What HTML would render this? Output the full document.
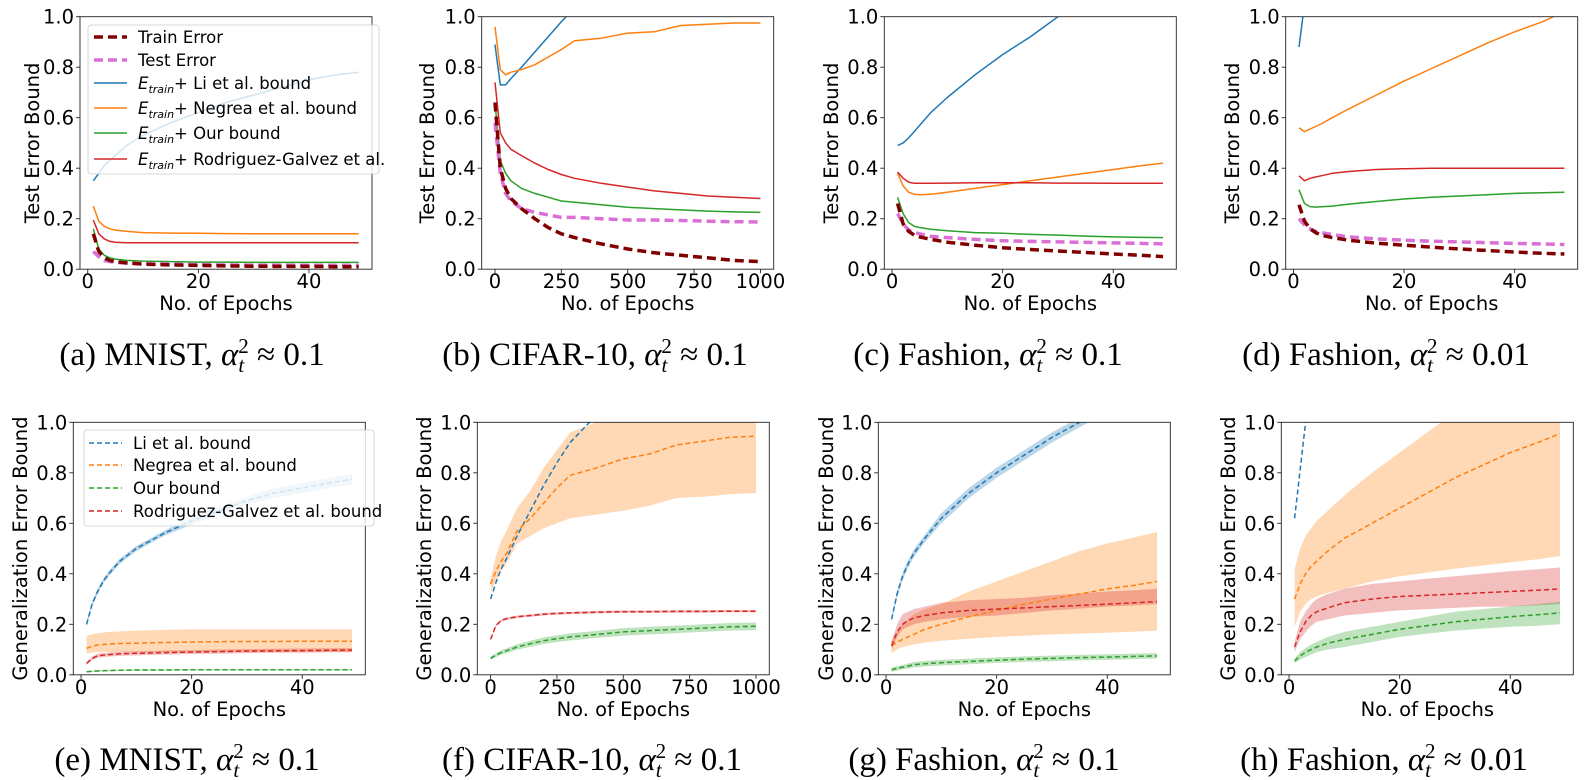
<!DOCTYPE html>
<html><head><meta charset="utf-8"><style>
html,body{margin:0;padding:0;background:#fff;}
svg{display:block;}
text{font-family:"DejaVu Sans","Liberation Sans",sans-serif;}
.cap{font-family:"Liberation Serif",serif;font-size:33px;}
</style></head><body>
<svg id="fig" width="1589" height="780" viewBox="0 0 1589 780" xmlns="http://www.w3.org/2000/svg"></svg>
<script>
// ---- data ----
const E = [1,2,3,4,5,7,10,15,20,25,30,35,40,45,49];
const C = [0,20,40,60,100,150,200,250,300,400,500,600,700,800,900,1000];
const yTicks = [0.0,0.2,0.4,0.6,0.8,1.0];
const eTicks = [0,20,40];
const cTicks = [0,250,500,750,1000];

const aTrain=[0.14,0.07,0.045,0.035,0.03,0.025,0.02,0.017,0.015,0.013,0.012,0.011,0.011,0.01,0.01];
const aTest=[0.07,0.05,0.035,0.03,0.027,0.024,0.022,0.02,0.018,0.017,0.016,0.016,0.015,0.015,0.015];
const aLi=[0.35,0.38,0.41,0.43,0.45,0.49,0.53,0.58,0.62,0.66,0.69,0.72,0.75,0.77,0.78];
const aNeg=[0.25,0.19,0.17,0.16,0.155,0.15,0.145,0.143,0.142,0.141,0.14,0.14,0.14,0.14,0.14];
const aOur=[0.16,0.08,0.055,0.045,0.04,0.035,0.032,0.03,0.028,0.028,0.027,0.027,0.027,0.027,0.027];
const aRod=[0.195,0.14,0.12,0.11,0.107,0.105,0.105,0.105,0.105,0.105,0.105,0.105,0.105,0.105,0.105];

const bLi=[0.89,0.73,0.73,0.755,0.80,0.86,0.92,0.98,1.035,null,null,null,null,null,null,null];
const bNeg=[0.96,0.79,0.77,0.78,0.79,0.81,0.84,0.87,0.905,0.915,0.935,0.94,0.965,0.97,0.975,0.975];
const bRod=[0.74,0.54,0.50,0.475,0.45,0.42,0.395,0.375,0.36,0.34,0.325,0.31,0.30,0.29,0.285,0.28];
const bOur=[0.66,0.43,0.38,0.35,0.32,0.30,0.285,0.27,0.265,0.255,0.245,0.24,0.235,0.23,0.227,0.225];
const bTrain=[0.66,0.40,0.32,0.28,0.24,0.20,0.165,0.14,0.125,0.10,0.08,0.065,0.055,0.045,0.035,0.03];
const bTest=[0.58,0.38,0.30,0.27,0.24,0.225,0.215,0.205,0.205,0.20,0.195,0.195,0.193,0.19,0.188,0.187];

const cLi=[0.49,0.50,0.52,0.545,0.57,0.62,0.68,0.77,0.85,0.92,1.0,1.06,null,null,null];
const cNeg=[0.38,0.33,0.305,0.297,0.295,0.297,0.305,0.32,0.335,0.35,0.365,0.38,0.395,0.41,0.42];
const cRod=[0.385,0.36,0.345,0.34,0.34,0.34,0.341,0.342,0.342,0.342,0.341,0.341,0.34,0.34,0.34];
const cOur=[0.285,0.22,0.185,0.17,0.165,0.158,0.152,0.145,0.142,0.138,0.135,0.131,0.128,0.126,0.125];
const cTrain=[0.26,0.18,0.15,0.135,0.128,0.118,0.107,0.095,0.085,0.078,0.072,0.066,0.06,0.055,0.05];
const cTest=[0.22,0.18,0.155,0.145,0.14,0.13,0.125,0.118,0.113,0.11,0.108,0.106,0.104,0.102,0.10];

const dLi=[0.88,1.05,null,null,null,null,null,null,null,null,null,null,null,null,null];
const dNeg=[0.56,0.545,0.555,0.565,0.575,0.60,0.635,0.69,0.745,0.795,0.845,0.895,0.94,0.98,1.02];
const dRod=[0.37,0.35,0.36,0.365,0.37,0.38,0.387,0.395,0.398,0.40,0.40,0.40,0.40,0.40,0.40];
const dOur=[0.315,0.26,0.248,0.246,0.247,0.25,0.258,0.268,0.278,0.285,0.29,0.295,0.30,0.303,0.305];
const dTrain=[0.255,0.19,0.16,0.145,0.135,0.125,0.115,0.103,0.095,0.087,0.08,0.074,0.068,0.063,0.06];
const dTest=[0.20,0.175,0.16,0.15,0.145,0.137,0.128,0.12,0.115,0.111,0.108,0.105,0.102,0.10,0.098];

const eLi=[0.20,0.28,0.33,0.37,0.40,0.45,0.50,0.56,0.61,0.65,0.69,0.72,0.74,0.76,0.775];
const eLiLo=[0.19,0.27,0.32,0.36,0.39,0.44,0.49,0.55,0.595,0.635,0.675,0.70,0.72,0.74,0.755];
const eLiHi=[0.21,0.29,0.34,0.38,0.41,0.46,0.51,0.57,0.625,0.665,0.705,0.74,0.76,0.78,0.795];
const eNeg=[0.105,0.113,0.118,0.12,0.122,0.124,0.125,0.128,0.13,0.131,0.132,0.132,0.133,0.133,0.133];
const eNegLo=[0.085,0.088,0.09,0.09,0.09,0.09,0.09,0.09,0.09,0.09,0.09,0.09,0.09,0.09,0.09];
const eNegHi=[0.155,0.16,0.165,0.167,0.17,0.172,0.175,0.178,0.18,0.18,0.18,0.18,0.18,0.18,0.18];
const eRod=[0.045,0.065,0.075,0.078,0.08,0.083,0.085,0.088,0.09,0.092,0.094,0.095,0.096,0.097,0.098];
const eRodLo=[0.04,0.058,0.067,0.07,0.072,0.075,0.077,0.08,0.082,0.084,0.086,0.087,0.088,0.089,0.09];
const eRodHi=[0.05,0.072,0.083,0.086,0.088,0.091,0.093,0.096,0.098,0.1,0.102,0.103,0.104,0.105,0.106];
const eOur=[0.012,0.014,0.015,0.016,0.017,0.018,0.019,0.019,0.02,0.02,0.02,0.02,0.02,0.02,0.02];
const eOurLo=[0.009,0.011,0.012,0.013,0.014,0.015,0.016,0.016,0.017,0.017,0.017,0.017,0.017,0.017,0.017];
const eOurHi=[0.015,0.017,0.018,0.019,0.02,0.021,0.022,0.022,0.023,0.023,0.023,0.023,0.023,0.023,0.023];

const fLi=[0.30,0.365,0.42,0.46,0.55,0.65,0.75,0.84,0.92,1.03,null,null,null,null,null,null];
const fNeg=[0.36,0.41,0.45,0.48,0.57,0.62,0.68,0.74,0.79,0.82,0.855,0.875,0.91,0.925,0.94,0.945];
const fNegLo=[0.33,0.37,0.41,0.44,0.52,0.55,0.58,0.60,0.62,0.635,0.65,0.67,0.70,0.705,0.715,0.72];
const fNegHi=[0.38,0.47,0.53,0.57,0.66,0.73,0.82,0.89,0.96,1.0,1.0,1.0,1.0,1.0,1.0,1.0];
const fRod=[0.14,0.195,0.215,0.222,0.23,0.235,0.24,0.243,0.245,0.248,0.25,0.25,0.251,0.251,0.252,0.252];
const fRodLo=[0.135,0.19,0.21,0.217,0.225,0.23,0.235,0.238,0.24,0.243,0.245,0.245,0.246,0.246,0.247,0.247];
const fRodHi=[0.145,0.2,0.22,0.227,0.235,0.24,0.245,0.248,0.25,0.253,0.255,0.255,0.256,0.256,0.257,0.257];
const fOur=[0.065,0.078,0.088,0.095,0.11,0.123,0.135,0.143,0.15,0.16,0.17,0.175,0.18,0.185,0.19,0.192];
const fOurLo=[0.058,0.07,0.079,0.085,0.099,0.111,0.122,0.13,0.136,0.146,0.155,0.16,0.165,0.17,0.175,0.177];
const fOurHi=[0.072,0.086,0.097,0.105,0.121,0.135,0.148,0.156,0.164,0.174,0.185,0.19,0.195,0.2,0.205,0.207];

const gLi=[0.22,0.32,0.39,0.44,0.48,0.54,0.62,0.72,0.80,0.87,0.94,1.0,1.06,null,null];
const gLiLo=[0.21,0.305,0.375,0.425,0.465,0.525,0.60,0.70,0.78,0.85,0.92,0.98,1.04,null,null];
const gLiHi=[0.23,0.335,0.405,0.455,0.495,0.555,0.64,0.74,0.82,0.89,0.96,1.02,1.08,null,null];
const gNeg=[0.115,0.13,0.14,0.15,0.16,0.18,0.20,0.23,0.255,0.28,0.30,0.32,0.34,0.355,0.37];
const gNegLo=[0.085,0.10,0.11,0.115,0.12,0.128,0.135,0.143,0.15,0.155,0.16,0.163,0.167,0.171,0.175];
const gNegHi=[0.14,0.17,0.20,0.22,0.24,0.26,0.28,0.33,0.37,0.41,0.45,0.49,0.52,0.545,0.565];
const gRod=[0.115,0.17,0.20,0.215,0.225,0.235,0.245,0.255,0.26,0.265,0.27,0.275,0.28,0.285,0.29];
const gRodLo=[0.10,0.15,0.18,0.19,0.20,0.21,0.22,0.23,0.235,0.245,0.255,0.262,0.27,0.275,0.28];
const gRodHi=[0.13,0.20,0.24,0.25,0.26,0.27,0.285,0.295,0.30,0.305,0.315,0.322,0.33,0.335,0.34];
const gOur=[0.02,0.026,0.03,0.035,0.04,0.044,0.048,0.053,0.058,0.062,0.065,0.068,0.07,0.073,0.075];
const gOurLo=[0.012,0.017,0.021,0.025,0.029,0.033,0.037,0.042,0.047,0.051,0.054,0.057,0.059,0.062,0.064];
const gOurHi=[0.028,0.035,0.039,0.045,0.051,0.055,0.059,0.064,0.069,0.073,0.076,0.079,0.081,0.084,0.086];

const hLi=[0.62,0.81,1.0,1.2,null,null,null,null,null,null,null,null,null,null,null];
const hNeg=[0.30,0.36,0.40,0.43,0.45,0.49,0.54,0.60,0.66,0.72,0.78,0.83,0.88,0.92,0.955];
const hNegLo=[0.19,0.25,0.28,0.30,0.31,0.325,0.34,0.37,0.39,0.405,0.42,0.433,0.445,0.458,0.47];
const hNegHi=[0.42,0.50,0.55,0.58,0.61,0.65,0.71,0.80,0.88,0.96,1.04,1.1,1.15,1.2,1.25];
const hRod=[0.11,0.17,0.21,0.235,0.25,0.265,0.285,0.30,0.31,0.315,0.32,0.325,0.33,0.335,0.34];
const hRodLo=[0.09,0.14,0.17,0.195,0.21,0.22,0.235,0.245,0.255,0.26,0.265,0.27,0.27,0.275,0.28];
const hRodHi=[0.13,0.21,0.25,0.28,0.30,0.32,0.34,0.36,0.37,0.38,0.39,0.40,0.41,0.418,0.425];
const hOur=[0.055,0.075,0.09,0.10,0.11,0.125,0.14,0.16,0.18,0.195,0.21,0.22,0.23,0.238,0.245];
const hOurLo=[0.045,0.06,0.07,0.08,0.09,0.10,0.11,0.13,0.15,0.163,0.175,0.183,0.19,0.195,0.20];
const hOurHi=[0.065,0.09,0.105,0.12,0.13,0.15,0.17,0.19,0.21,0.23,0.25,0.26,0.27,0.28,0.29];

// ---- drawing ----
const NS="http://www.w3.org/2000/svg";
const svg=document.getElementById('fig');
const COL={li:'#1f77b4',neg:'#ff7f0e',our:'#2ca02c',rod:'#d62728',train:'#800000',test:'#da70d6'};
const W=292,H=252.5,FS=19.5;
function mk(tag,attrs,parent){const e=document.createElementNS(NS,tag);for(const k in attrs)e.setAttribute(k,attrs[k]);(parent||svg).appendChild(e);return e;}
let clipId=0;

function panel(id,left,top,xs,xmin,xmax,xt,ylabel,ylabX,lines,bands){
  const g=mk('g',{});
  
  
  const sx=v=>left+(v-xmin)/(xmax-xmin)*W;
  const sy=v=>top+H-(v/1.0)*H;
  const cid='clip'+(clipId++);
  const cp=mk('clipPath',{id:cid},g);mk('rect',{x:left,y:top,width:W,height:H},cp);
  const plot=mk('g',{'clip-path':'url(#'+cid+')'},g);
  
  
  (bands||[]).forEach(b=>{
    let pts=[];
    for(let i=0;i<xs.length;i++) if(b.hi[i]!=null) pts.push(sx(xs[i]).toFixed(1)+','+sy(b.hi[i]).toFixed(1));
    for(let i=xs.length-1;i>=0;i--) if(b.lo[i]!=null) pts.push(sx(xs[i]).toFixed(1)+','+sy(b.lo[i]).toFixed(1));
    const p=mk('polygon',{points:pts.join(' '),fill:b.color,'fill-opacity':0.3,stroke:'none'},plot);
    
    
  });
  lines.forEach(l=>{
    let pts=[];
    for(let i=0;i<xs.length;i++) if(l.data[i]!=null) pts.push(sx(xs[i]).toFixed(1)+','+sy(l.data[i]).toFixed(1));
    const p=mk('polyline',{points:pts.join(' '),fill:'none',stroke:l.color,'stroke-width':l.w,'stroke-dasharray':l.dash||'none','stroke-linejoin':'round'},plot);
    
    
  });
  const fr=mk('rect',{x:left,y:top,width:W,height:H,fill:'none',stroke:'#222','stroke-width':0.9},g);
  
  
  yTicks.forEach(t=>{
    mk('line',{x1:left-4,x2:left,y1:sy(t),y2:sy(t),stroke:'#222','stroke-width':0.9},g);
    const tx=mk('text',{x:left-6,y:sy(t)+7,'text-anchor':'end','font-size':FS},g);
    tx.textContent=t.toFixed(1);
    
    
  });
  xt.forEach(t=>{
    mk('line',{x1:sx(t),x2:sx(t),y1:top+H,y2:top+H+4,stroke:'#222','stroke-width':0.9},g);
    const tx=mk('text',{x:sx(t),y:top+H+19,'text-anchor':'middle','font-size':FS},g);
    tx.textContent=t;
    
    
  });
  const xl=mk('text',{x:left+W/2,y:top+H+41,'text-anchor':'middle','font-size':FS},g);
  xl.textContent='No. of Epochs';
  
  
  const cy=top+H/2;
  const yl=mk('text',{x:ylabX,y:cy,'text-anchor':'middle','font-size':FS,transform:'rotate(-90 '+ylabX+' '+cy+')'},g);
  yl.textContent=ylabel;
  
  
}
function topLines(tr,te,li,neg,our,rod){
  return [
    {name:'li',data:li,color:COL.li,w:1.5},
    {name:'negrea',data:neg,color:COL.neg,w:1.5},
    {name:'our',data:our,color:COL.our,w:1.5},
    {name:'rodriguez',data:rod,color:COL.rod,w:1.5},
    {name:'test-error',data:te,color:COL.test,w:3.5,dash:'9 5'},
    {name:'train-error',data:tr,color:COL.train,w:3.5,dash:'9 5'}
  ];
}
function botLines(li,neg,our,rod){
  return [
    {name:'li',data:li,color:COL.li,w:1.5,dash:'5 3'},
    {name:'negrea',data:neg,color:COL.neg,w:1.5,dash:'5 3'},
    {name:'our',data:our,color:COL.our,w:1.5,dash:'5 3'},
    {name:'rodriguez',data:rod,color:COL.rod,w:1.5,dash:'5 3'}
  ];
}
const T1=16.7,T2=422.3;
panel('a',80,T1,E,-1.4,51.4,eTicks,'Test Error Bound',39,topLines(aTrain,aTest,aLi,aNeg,aOur,aRod));
panel('b',481.7,T1,C,-50,1050,cTicks,'Test Error Bound',434,topLines(bTrain,bTest,bLi,bNeg,bOur,bRod));
panel('c',884.3,T1,E,-1.4,51.4,eTicks,'Test Error Bound',838,topLines(cTrain,cTest,cLi,cNeg,cOur,cRod));
panel('d',1285.7,T1,E,-1.4,51.4,eTicks,'Test Error Bound',1239,topLines(dTrain,dTest,dLi,dNeg,dOur,dRod));
panel('e',73.3,T2,E,-1.4,51.4,eTicks,'Generalization Error Bound',27,botLines(eLi,eNeg,eOur,eRod),
  [{name:'li',lo:eLiLo,hi:eLiHi,color:COL.li},{name:'negrea',lo:eNegLo,hi:eNegHi,color:COL.neg},{name:'our',lo:eOurLo,hi:eOurHi,color:COL.our},{name:'rodriguez',lo:eRodLo,hi:eRodHi,color:COL.rod}]);
panel('f',477.3,T2,C,-50,1050,cTicks,'Generalization Error Bound',431,botLines(fLi,fNeg,fOur,fRod),
  [{name:'negrea',lo:fNegLo,hi:fNegHi,color:COL.neg},{name:'our',lo:fOurLo,hi:fOurHi,color:COL.our},{name:'rodriguez',lo:fRodLo,hi:fRodHi,color:COL.rod}]);
panel('g',878.3,T2,E,-1.4,51.4,eTicks,'Generalization Error Bound',833,botLines(gLi,gNeg,gOur,gRod),
  [{name:'li',lo:gLiLo,hi:gLiHi,color:COL.li},{name:'negrea',lo:gNegLo,hi:gNegHi,color:COL.neg},{name:'our',lo:gOurLo,hi:gOurHi,color:COL.our},{name:'rodriguez',lo:gRodLo,hi:gRodHi,color:COL.rod}]);
panel('h',1281.3,T2,E,-1.4,51.4,eTicks,'Generalization Error Bound',1235,botLines(hLi,hNeg,hOur,hRod),
  [{name:'negrea',lo:hNegLo,hi:hNegHi,color:COL.neg},{name:'rodriguez',lo:hRodLo,hi:hRodHi,color:COL.rod},{name:'our',lo:hOurLo,hi:hOurHi,color:COL.our}]);
</script>
<svg width="1589" height="780" style="position:absolute;left:0;top:0" xmlns="http://www.w3.org/2000/svg">
  <g font-family="DejaVu Sans, Liberation Sans, sans-serif" font-size="16.5">
    <rect x="88" y="25" width="291" height="149" rx="3" fill="#fff" fill-opacity="0.8" stroke="#ccc" stroke-width="0.8"/>
    <line x1="94" y1="37" x2="127" y2="37" stroke="#800000" stroke-width="3.5" stroke-dasharray="9 5"/>
    <text x="138" y="43">Train Error</text>
    <line x1="94" y1="60" x2="127" y2="60" stroke="#da70d6" stroke-width="3.5" stroke-dasharray="9 5"/>
    <text x="138" y="66">Test Error</text>
    <line x1="94" y1="83" x2="127" y2="83" stroke="#1f77b4" stroke-width="1.5"/>
    <text x="138" y="89"><tspan font-style="italic">E</tspan><tspan font-style="italic" font-size="11" dy="4">train</tspan><tspan dy="-4">+ Li et al. bound</tspan></text>
    <line x1="94" y1="108" x2="127" y2="108" stroke="#ff7f0e" stroke-width="1.5"/>
    <text x="138" y="114"><tspan font-style="italic">E</tspan><tspan font-style="italic" font-size="11" dy="4">train</tspan><tspan dy="-4">+ Negrea et al. bound</tspan></text>
    <line x1="94" y1="133" x2="127" y2="133" stroke="#2ca02c" stroke-width="1.5"/>
    <text x="138" y="139"><tspan font-style="italic">E</tspan><tspan font-style="italic" font-size="11" dy="4">train</tspan><tspan dy="-4">+ Our bound</tspan></text>
    <line x1="94" y1="159" x2="127" y2="159" stroke="#d62728" stroke-width="1.5"/>
    <text x="138" y="165"><tspan font-style="italic">E</tspan><tspan font-style="italic" font-size="11" dy="4">train</tspan><tspan dy="-4">+ Rodriguez-Galvez et al.</tspan></text>
  </g>
  <g font-family="DejaVu Sans, Liberation Sans, sans-serif" font-size="16.5">
    <rect x="84" y="430" width="290" height="96" rx="3" fill="#fff" fill-opacity="0.8" stroke="#ccc" stroke-width="0.8"/>
    <line x1="89" y1="443" x2="122" y2="443" stroke="#1f77b4" stroke-width="1.5" stroke-dasharray="5 3"/>
    <text x="133" y="449">Li et al. bound</text>
    <line x1="89" y1="465" x2="122" y2="465" stroke="#ff7f0e" stroke-width="1.5" stroke-dasharray="5 3"/>
    <text x="133" y="471">Negrea et al. bound</text>
    <line x1="89" y1="488" x2="122" y2="488" stroke="#2ca02c" stroke-width="1.5" stroke-dasharray="5 3"/>
    <text x="133" y="494">Our bound</text>
    <line x1="89" y1="511" x2="122" y2="511" stroke="#d62728" stroke-width="1.5" stroke-dasharray="5 3"/>
    <text x="133" y="517">Rodriguez-Galvez et al. bound</text>
  </g>
  <g text-anchor="middle">
    <text class="cap" x="192" y="365">(a) MNIST, <tspan font-style="italic">α</tspan><tspan font-style="italic" font-size="21" dy="7">t</tspan><tspan font-size="21" dx="-6" dy="-19">2</tspan><tspan dy="12"> ≈ 0.1</tspan></text>
    <text class="cap" x="595" y="365">(b) CIFAR-10, <tspan font-style="italic">α</tspan><tspan font-style="italic" font-size="21" dy="7">t</tspan><tspan font-size="21" dx="-6" dy="-19">2</tspan><tspan dy="12"> ≈ 0.1</tspan></text>
    <text class="cap" x="988" y="365">(c) Fashion, <tspan font-style="italic">α</tspan><tspan font-style="italic" font-size="21" dy="7">t</tspan><tspan font-size="21" dx="-6" dy="-19">2</tspan><tspan dy="12"> ≈ 0.1</tspan></text>
    <text class="cap" x="1386" y="365">(d) Fashion, <tspan font-style="italic">α</tspan><tspan font-style="italic" font-size="21" dy="7">t</tspan><tspan font-size="21" dx="-6" dy="-19">2</tspan><tspan dy="12"> ≈ 0.01</tspan></text>
    <text class="cap" x="187" y="770">(e) MNIST, <tspan font-style="italic">α</tspan><tspan font-style="italic" font-size="21" dy="7">t</tspan><tspan font-size="21" dx="-6" dy="-19">2</tspan><tspan dy="12"> ≈ 0.1</tspan></text>
    <text class="cap" x="592" y="770">(f) CIFAR-10, <tspan font-style="italic">α</tspan><tspan font-style="italic" font-size="21" dy="7">t</tspan><tspan font-size="21" dx="-6" dy="-19">2</tspan><tspan dy="12"> ≈ 0.1</tspan></text>
    <text class="cap" x="984" y="770">(g) Fashion, <tspan font-style="italic">α</tspan><tspan font-style="italic" font-size="21" dy="7">t</tspan><tspan font-size="21" dx="-6" dy="-19">2</tspan><tspan dy="12"> ≈ 0.1</tspan></text>
    <text class="cap" x="1384" y="770">(h) Fashion, <tspan font-style="italic">α</tspan><tspan font-style="italic" font-size="21" dy="7">t</tspan><tspan font-size="21" dx="-6" dy="-19">2</tspan><tspan dy="12"> ≈ 0.01</tspan></text>
  </g>
</svg>
</body></html>
